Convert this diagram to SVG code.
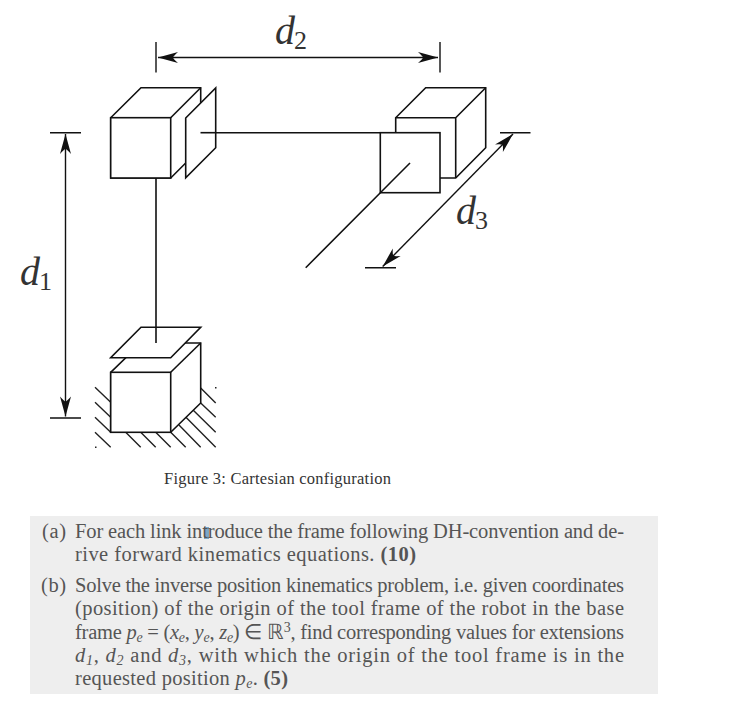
<svg xmlns="http://www.w3.org/2000/svg" width="752" height="722" viewBox="0 0 752 722">
<style>
.s{fill:#fff;stroke:#111;stroke-width:1.6;stroke-linejoin:miter}
.l{fill:none;stroke:#111;stroke-width:1.6}
.d{fill:none;stroke:#111;stroke-width:1.4}
.h{fill:none;stroke:#222;stroke-width:1.4}
.m{font-family:"Liberation Serif",serif;font-style:italic;fill:#333;font-size:40px}
.u{font-family:"Liberation Serif",serif;font-style:normal;fill:#333;font-size:26px}
.c{font-family:"Liberation Serif",serif;fill:#333;font-size:16.500px}
.t{font-family:"Liberation Serif",serif;fill:#555;font-size:20.500px}
.i{font-style:italic}
.b{font-weight:bold}
.sb{font-size:14px}
</style>
<defs>
<marker id="a" markerUnits="userSpaceOnUse" markerWidth="24" markerHeight="14" refX="21" refY="7" orient="auto-start-reverse">
<path d="M21,7 L1,1.500 Q6,6 6,7 Q6,8 1,12.500 Z" fill="#111"/>
</marker>
</defs>
<rect id="panel" x="30" y="516" width="628" height="178" fill="#eeeeee"/>
<g id="connectors">
<path class="l" d="M156,178V343M200.500,132.700H381M410,163L305.700,267.700"/>
<path class="d" d="M156,42V72.500M440,42V72.500M50,132.700H81M50,418H81M500,132.700H530.500M365,267.700H396"/>
<path class="d" d="M158,57.500H438" marker-start="url(#a)" marker-end="url(#a)"/>
<path class="d" d="M65.500,134V416.500" marker-start="url(#a)" marker-end="url(#a)"/>
<path class="d" d="M513,134L382.700,266.500" marker-start="url(#a)" marker-end="url(#a)"/>
</g>
<g id="joint-base">
<path class="h" d="M95,387.300L110.700,402.300M95,402.300L110.700,417.300M95,417.300L110.700,432.300M95,432.300L110.700,447.300M125.700,432.300L140.700,447.300M140.700,432.300L155.700,447.300M155.700,432.300L170.700,447.300M170.700,432.300L185.700,447.300M179,425L200.700,447.300M185.700,417L215.700,447.300M193,410L215.700,432.300M200.700,403L215.700,417.300M200.700,388L215.700,403"/>
<path class="h" d="M215,387.700h1.500M95,447.300h1.500"/>
<path class="s" d="M110.700,372.300L141,343H200.700V403L170.700,432.300H110.700Z"/>
<path class="s" d="M170.700,372.300L200.700,343"/>
<rect class="s" x="110.700" y="372.300" width="60" height="60"/>
<path class="s" d="M110.700,357.700H170.700L200.700,327.300H141Z" stroke-width="1.4"/>
<path class="l" d="M156,328V343"/>
</g>
<g id="joint-1">
<path class="s" d="M110.700,117.700L141,87.700H200.700V148L170.700,178H110.700Z"/>
<path class="s" d="M170.700,117.700L200.700,87.700"/>
<rect class="s" x="110.700" y="117.700" width="60" height="60.300"/>
<path class="s" d="M185.700,118L215.700,88V147.700L185.700,177.700Z" stroke-width="1.4"/>
<path class="l" d="M200.500,132.700H215.700"/>
</g>
<g id="joint-2">
<path class="s" d="M395.700,117.700L425.700,87.700H485.700V147.700L455.700,178H395.700Z"/>
<path class="s" d="M455.700,117.700L485.700,87.700M455.700,117.700V178M395.700,117.700H455.700"/>
<rect class="s" x="380.300" y="132.700" width="59.700" height="60"/>
<path class="l" d="M410,163L380.300,192.700"/>
</g>
<g id="labels">
<text class="m" x="275" y="44">d<tspan class="u" dx="-1" dy="5">2</tspan></text>
<text class="m" x="20" y="285">d<tspan class="u" dx="-1" dy="5">1</tspan></text>
<text class="m" x="456" y="224">d<tspan class="u" dx="-1" dy="5">3</tspan></text>
<text class="c" x="164" y="484" textLength="227">Figure 3: Cartesian configuration</text>
</g>
<g id="question-text">
<rect x="204" y="527" width="5" height="12" fill="#7ba7c7"/>
<text class="t" x="42" y="538" textLength="24">(a)</text>
<text class="t" x="75" y="538" textLength="549">For each link introduce the frame following DH-convention and de-</text>
<text class="t" x="75" y="561" textLength="341">rive forward kinematics equations. <tspan class="b">(10)</tspan></text>
<text class="t" x="41" y="592" textLength="25">(b)</text>
<text class="t" x="75" y="592" textLength="549">Solve the inverse position kinematics problem, i.e. given coordinates</text>
<text class="t" x="75" y="615" textLength="549">(position) of the origin of the tool frame of the robot in the base</text>
<text class="t" x="75" y="639" textLength="549">frame <tspan class="i">p<tspan class="sb" dy="3">e</tspan></tspan><tspan dy="-3"> = (</tspan><tspan class="i">x<tspan class="sb" dy="3">e</tspan></tspan><tspan dy="-3">, </tspan><tspan class="i">y<tspan class="sb" dy="3">e</tspan></tspan><tspan dy="-3">, </tspan><tspan class="i">z<tspan class="sb" dy="3">e</tspan></tspan><tspan dy="-3">) ∈ ℝ</tspan><tspan class="sb" dy="-7">3</tspan><tspan dy="7">, find corresponding values for extensions</tspan></text>
<text class="t" x="75" y="662" textLength="549"><tspan class="i">d<tspan class="sb" dy="3">1</tspan></tspan><tspan dy="-3">, </tspan><tspan class="i">d<tspan class="sb" dy="3">2</tspan></tspan><tspan dy="-3"> and </tspan><tspan class="i">d<tspan class="sb" dy="3">3</tspan></tspan><tspan dy="-3">, with which the origin of the tool frame is in the</tspan></text>
<text class="t" x="75" y="685" textLength="213">requested position <tspan class="i">p<tspan class="sb" dy="3">e</tspan></tspan><tspan dy="-3">. </tspan><tspan class="b">(5)</tspan></text>
</g>
</svg>
